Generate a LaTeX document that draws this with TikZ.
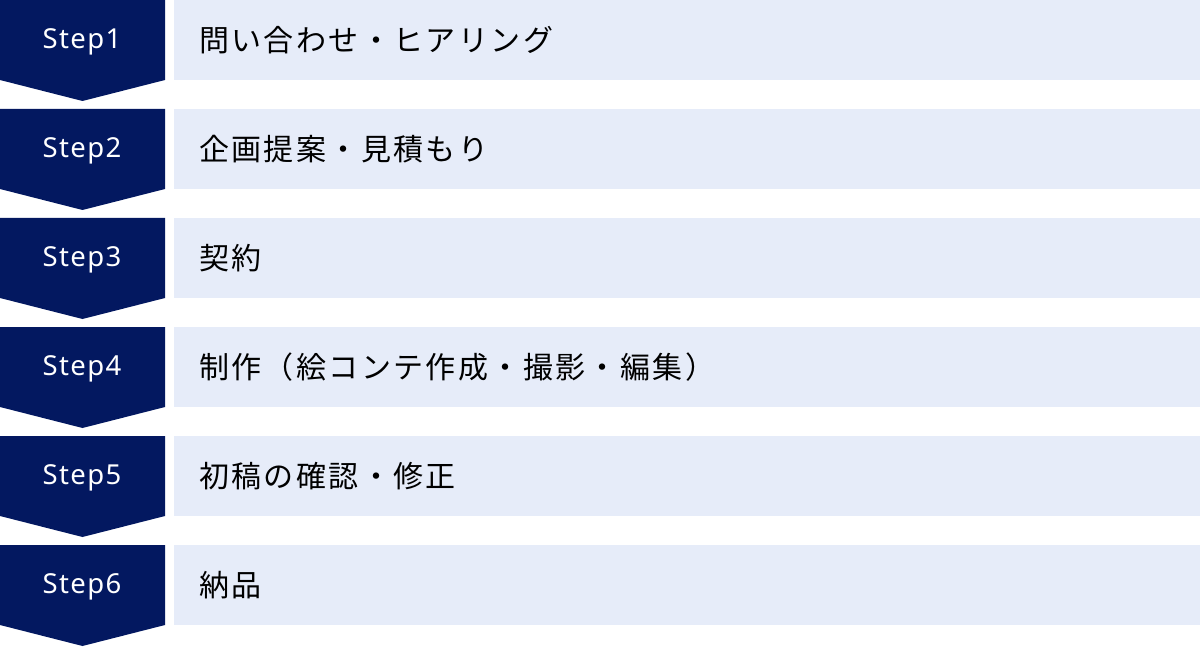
\documentclass[tikz,border=0pt]{standalone}
\usepackage{fontspec}
\setmainfont{Noto Sans}
\newfontfamily\jpfont[LetterSpace=8]{Noto Sans CJK JP}
\newfontfamily\stepfont[LetterSpace=5]{Noto Sans}
\definecolor{navy}{RGB}{3,24,96}
\definecolor{pale}{RGB}{230,236,249}
\tikzset{
  chevron/.style={fill=navy},
  steplabel/.style={text=white, inner sep=0pt, font=\stepfont\fontsize{27.5}{31}\selectfont},
  palebox/.style={fill=pale, inner sep=0pt, minimum width=1026pt, minimum height=80pt, anchor=north west},
  jptext/.style={text=black, inner sep=0pt, anchor=west, font=\jpfont\fontsize{30}{36}\selectfont}
}
\begin{document}
\begin{tikzpicture}[x=1pt,y=-1pt]
\useasboundingbox (0,0) rectangle (1200,647);
\foreach \i/\lab in {1/問い合わせ・ヒアリング,2/企画提案・見積もり,3/契約,4/制作（絵コンテ作成・撮影・編集）,5/初稿の確認・修正,6/納品}{
  \pgfmathsetmacro\t{(\i-1)*109}
  \fill[chevron] (0,\t) -- (165,\t) -- (165,{\t+80}) -- (82.5,{\t+101}) -- (0,{\t+80}) -- cycle;
  \node[steplabel] (s\i) at (82,{\t+41.5}) {Step\i};
  \node[palebox] (b\i) at (174,\t) {};
  \node[jptext] (t\i) at (199,{\t+40}) {\lab};
}
\end{tikzpicture}
\end{document}
